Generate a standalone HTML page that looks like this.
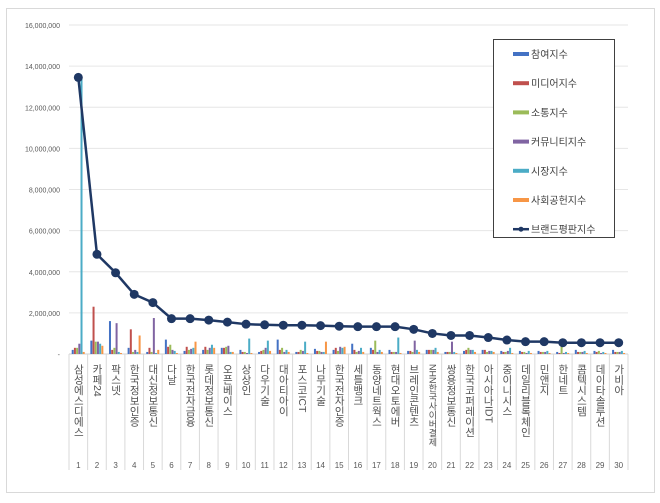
<!DOCTYPE html>
<html><head><meta charset="utf-8"><style>
body{margin:0;background:#fff;font-family:"Liberation Sans","Noto Sans CJK KR",sans-serif;}
svg text{font-family:"Liberation Sans","Noto Sans CJK KR",sans-serif;}
.vt{writing-mode:vertical-rl;text-orientation:mixed;}
</style></head><body>
<svg id="c" width="660" height="498">
<rect x="6.5" y="8.5" width="648" height="484" fill="#fff" stroke="#d9d9d9"/>
</svg>
<script>
const names=["삼성에스디에스","카페24","팍스넷","한국정보인증","대신정보통신","다날","한국전자금융","롯데정보통신","오픈베이스","상상인","다우기술","대아티아이","포스코ICT","나무기술","한국전자인증","세틀뱅크","동양네트웍스","현대오토에버","브레인콘텐츠","NHN한국사이버결제","쌍용정보통신","한국코퍼레이션","아시아나IDT","중이니시스","데일리블록체인","민앤지","한네트","콤텍시스템","데이타솔루션","가비아"];
const participation=[0.2,0.65,1.6,0.3,0.1,0.7,0.15,0.2,0.3,0.2,0.1,0.7,0.1,0.25,0.2,0.5,0.3,0.2,0.15,0.2,0.1,0.15,0.2,0.15,0.15,0.15,0.1,0.2,0.15,0.2];
const media=[0.3,2.3,0.2,1.2,0.3,0.35,0.35,0.35,0.3,0.1,0.15,0.2,0.1,0.15,0.3,0.2,0.2,0.1,0.15,0.2,0.1,0.2,0.2,0.1,0.1,0.1,0.05,0.1,0.1,0.1];
const comm=[0.3,0.6,0.3,0.1,0.1,0.45,0.2,0.2,0.35,0.1,0.2,0.3,0.2,0.15,0.15,0.1,0.65,0.1,0.1,0.2,0.1,0.3,0.1,0.1,0.1,0.1,0.55,0.1,0.15,0.1];
const community=[0.5,0.6,1.5,0.2,1.75,0.2,0.25,0.3,0.4,0.05,0.3,0.1,0.15,0.1,0.35,0.15,0.1,0.1,0.65,0.2,0.6,0.2,0.15,0.15,0.05,0.1,0.05,0.1,0.05,0.1];
const market=[13.4,0.5,0.1,0.1,0.05,0.15,0.3,0.45,0.1,0.75,0.65,0.2,0.6,0.1,0.3,0.3,0.2,0.8,0.2,0.3,0.1,0.2,0.15,0.3,0.15,0.15,0.1,0.15,0.1,0.15];
const social=[0.1,0.4,0.05,0.9,0.2,0.05,0.6,0.3,0.1,0.05,0.15,0.1,0.05,0.6,0.35,0.1,0.1,0.05,0.1,0.1,0.05,0.1,0.1,0.05,0.05,0.05,0.05,0.05,0.05,0.05];
const brand=[13.45,4.85,3.95,2.9,2.5,1.72,1.72,1.65,1.55,1.45,1.42,1.4,1.4,1.38,1.35,1.33,1.33,1.33,1.2,1.0,0.9,0.9,0.8,0.68,0.6,0.6,0.55,0.55,0.55,0.55];
const yTicks=[0,2,4,6,8,10,12,14,16];
const seriesNames=["참여지수","미디어지수","소통지수","커뮤니티지수","시장지수","사회공헌지수"];
const colors=["#4472c4","#c0504d","#9bbb59","#8064a2","#4bacc6","#f79646"];
const NS="http://www.w3.org/2000/svg",svg=document.getElementById('c');
const x0=69,x1=628,yB=354,yT=25;
const step=(x1-x0)/names.length;
const X=i=>x0+step*(i+0.5);
const Y=v=>yB-(yB-yT)*v/16;
function mk(t,a){const e=document.createElementNS(NS,t);for(const k in a)e.setAttribute(k,a[k]);svg.appendChild(e);return e;}
yTicks.forEach(t=>{
 const l=mk('line',{x1:x0,x2:x1,y1:Y(t),y2:Y(t),stroke:t?'#e6e6e6':'#d0d0d0'});
 
 
 const tx=mk('text',{x:60,y:Y(t)+3,'text-anchor':'end','font-size':7,fill:'#595959'});
 tx.textContent=t===0?'-':(t*1000000).toLocaleString('en-US');
 
 
});
for(let i=0;i<=names.length;i++){
 const l=mk('line',{x1:x0+step*i,x2:x0+step*i,y1:yB,y2:470,stroke:'#d9d9d9'});
 
 
}
const series=[participation,media,comm,community,market,social];
const bw=2.2;
series.forEach((s,k)=>{
 s.forEach((v,i)=>{
  const x=X(i)-3*bw+k*bw;
  const r=mk('rect',{x:x,y:Y(v),width:bw-0.2,height:yB-Y(v),fill:colors[k]});
  
  
 });
});
const pl=mk('polyline',{points:brand.map((v,i)=>X(i)+','+Y(v)).join(' '),fill:'none',stroke:'#1f3864',"stroke-width":2.5});


brand.forEach((v,i)=>{
 const c=mk('circle',{cx:X(i),cy:Y(v),r:4.5,fill:'#1f3864'});
 
 
});
names.forEach((n,i)=>{
 const t=mk('text',{x:X(i),y:364,'font-size':n.length>9?9:10.5,fill:'#505050','class':'vt'});
 t.textContent=n;
 
 
 const r=mk('text',{x:X(i),y:468,'text-anchor':'middle','font-size':8,fill:'#595959'});
 r.textContent=i+1;
 
 
});
const lg=mk('rect',{x:493.5,y:39.5,width:121,height:198,fill:'#fff',stroke:'#404040'});


seriesNames.forEach((n,k)=>{
 const y=54+k*29.2;
 const r=mk('rect',{x:513,y:y-2,width:16,height:4,fill:colors[k]});
 
 
 const t=mk('text',{x:531,y:y+4,'font-size':10,fill:'#404040'});
 t.textContent=n;
 
 
});
{const y=54+6*29.2;
 const l=mk('line',{x1:513,x2:529,y1:y,y2:y,stroke:'#1f3864','stroke-width':2.5});
 
 
 const c=mk('circle',{cx:521,cy:y,r:2.5,fill:'#1f3864'});
 
 
 const t=mk('text',{x:531,y:y+4,'font-size':10,fill:'#404040'});
 t.textContent='브랜드평판지수';
 
 }
</script>
</body></html>
